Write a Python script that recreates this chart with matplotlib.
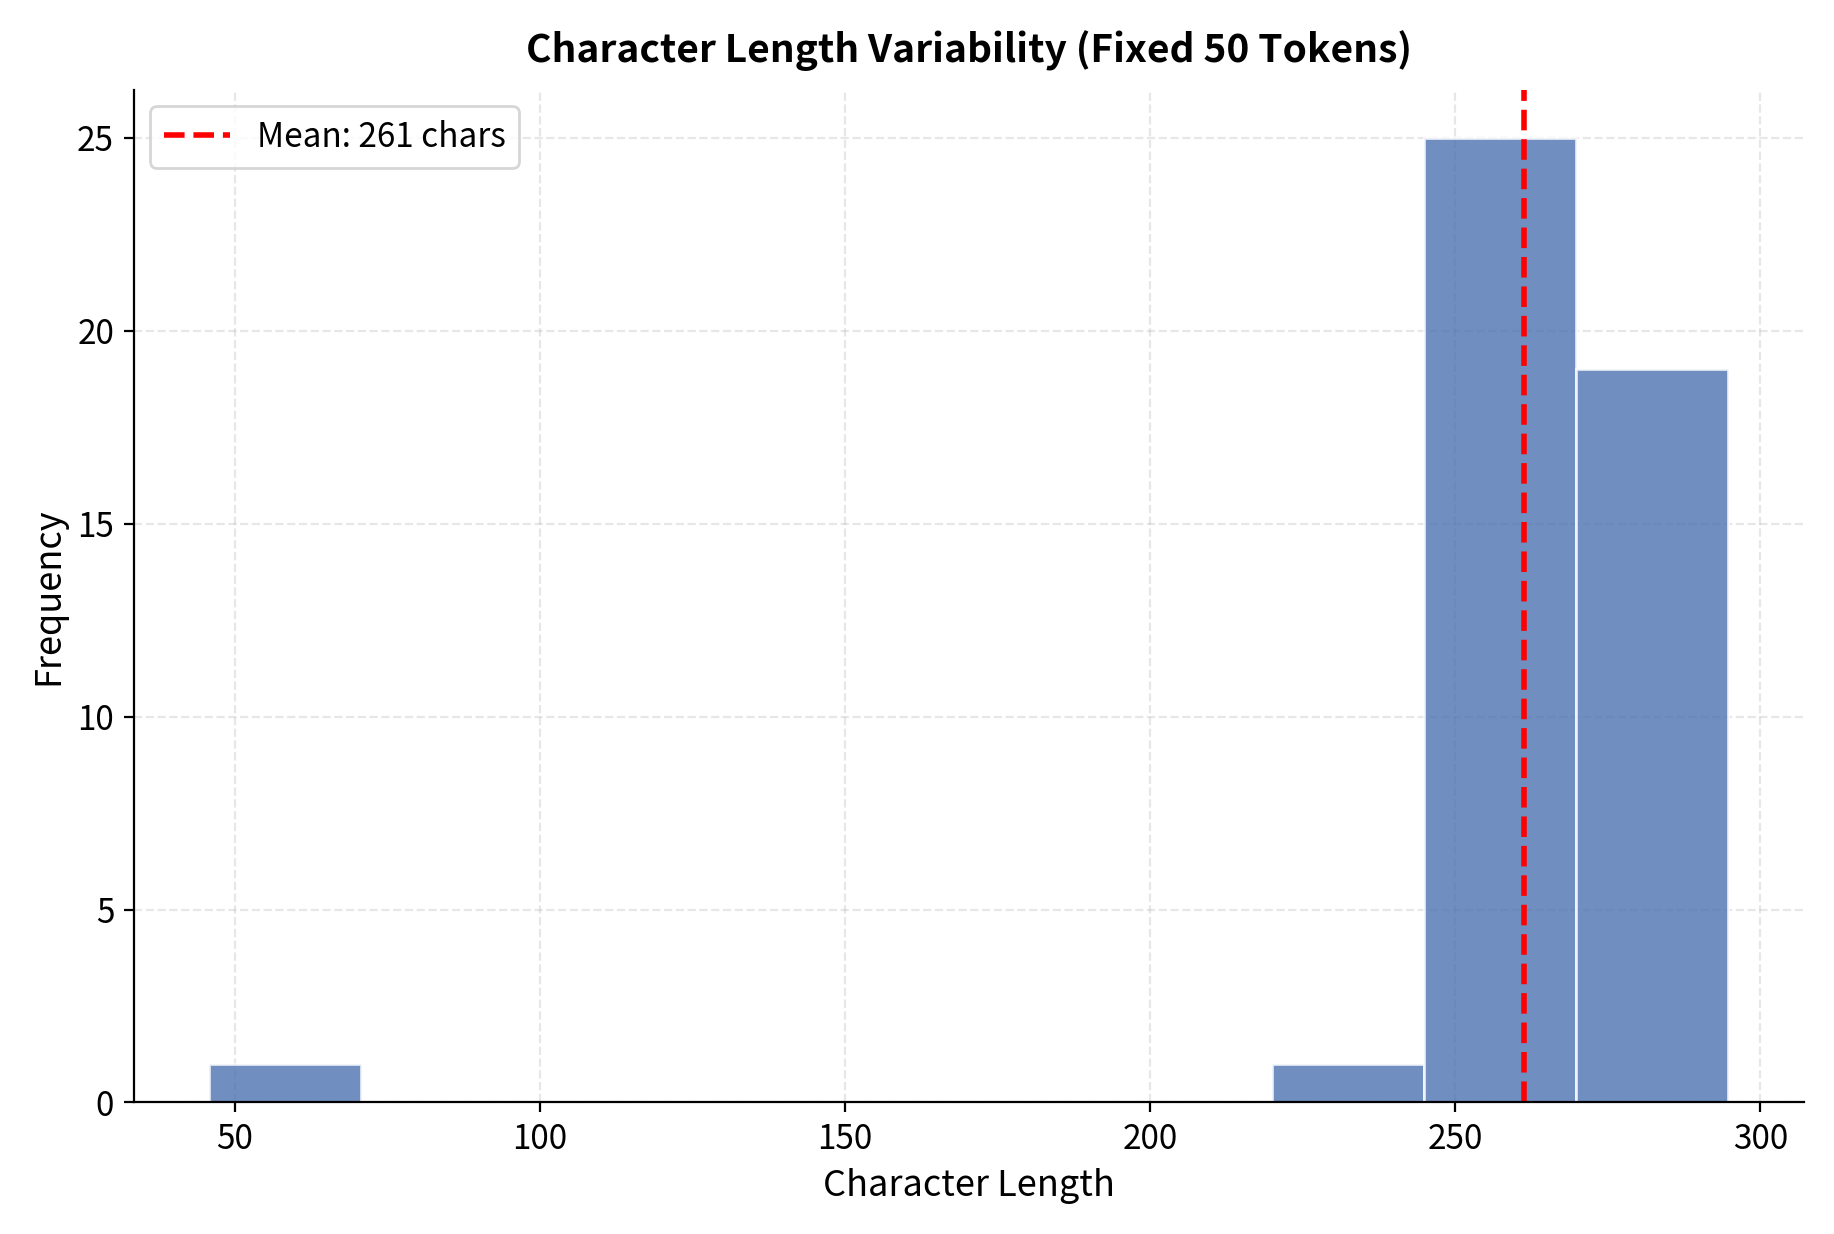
import matplotlib
matplotlib.use("Agg")
import matplotlib.pyplot as plt
import numpy as np

bin_edges = np.linspace(45.9, 294.7, 11)
counts = [1, 0, 0, 0, 0, 0, 0, 1, 25, 19]
mean_len = 261.3

plt.rcParams["font.family"] = ["Noto Sans CJK SC", "DejaVu Sans"]

fig, ax = plt.subplots(figsize=(9.17, 6.17), dpi=200)
ax.hist(bin_edges[:-1], bins=bin_edges, weights=counts, color="#4c72b0", alpha=0.8,
        edgecolor="white", linewidth=1)
ax.axvline(mean_len, color="red", linestyle="--", linewidth=2, label=f"Mean: {mean_len:.0f} chars")
ax.set_title("Character Length Variability (Fixed 50 Tokens)", fontsize=14, fontweight="bold", pad=10)
ax.set_xlabel("Character Length", fontsize=13)
ax.set_ylabel("Frequency", fontsize=13)
ax.tick_params(labelsize=12)
ax.grid(True, linestyle="--", alpha=0.3)
ax.set_axisbelow(True)
ax.spines["top"].set_visible(False)
ax.spines["right"].set_visible(False)
ax.legend(loc="upper left", fontsize=12)
fig.tight_layout()
fig.savefig("out.png", dpi=200)
